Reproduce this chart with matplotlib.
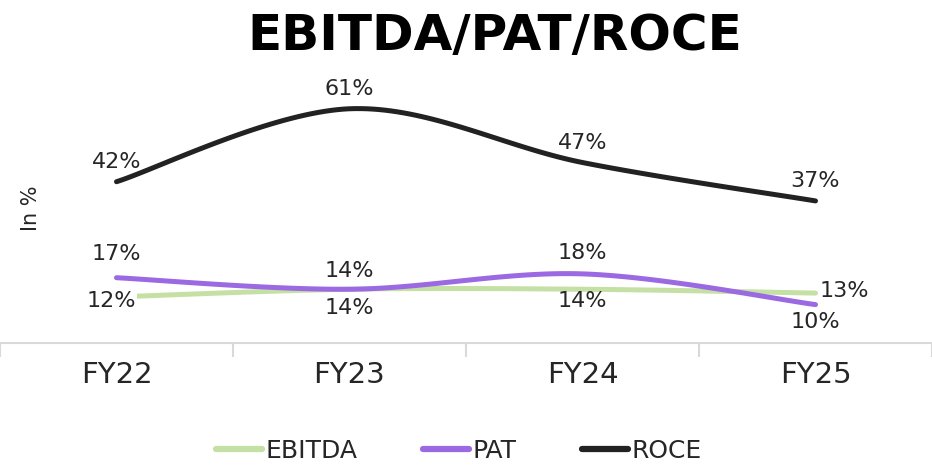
import numpy as np
import matplotlib
matplotlib.use("Agg")
import matplotlib.pyplot as plt

categories = ["FY22", "FY23", "FY24", "FY25"]
ebitda = [12, 14, 14, 13]
pat = [17, 14, 18, 10]
roce = [42, 61, 47, 37]

colors = {"EBITDA": "#C5E0A4", "PAT": "#9B69E1", "ROCE": "#222222"}
txt = "#262626"
FONT = "DejaVu Sans"
plt.rcParams["font.family"] = FONT


def smooth(xs, ys, n=40):
    xs = np.asarray(xs, float)
    ys = np.asarray(ys, float)
    px = np.concatenate([[xs[0]], xs, [xs[-1]]])
    py = np.concatenate([[ys[0]], ys, [ys[-1]]])
    ox, oy = [], []
    t = np.linspace(0, 1, n)
    for i in range(1, len(xs)):
        p0 = np.array([px[i - 1], py[i - 1]])
        p1 = np.array([px[i], py[i]])
        p2 = np.array([px[i + 1], py[i + 1]])
        p3 = np.array([px[i + 2], py[i + 2]])
        c1 = p1 + (p2 - p0) / 6
        c2 = p2 - (p3 - p1) / 6
        b = (np.outer((1 - t) ** 3, p1) + np.outer(3 * (1 - t) ** 2 * t, c1)
             + np.outer(3 * (1 - t) * t ** 2, c2) + np.outer(t ** 3, p2))
        ox.extend(b[:, 0])
        oy.extend(b[:, 1])
    return np.array(ox), np.array(oy)


fig = plt.figure(figsize=(9.32, 4.73), dpi=100)
ax = fig.add_axes([0, 130 / 473, 1, 268.8 / 473])
ax.set_xlim(-0.5, 3.5)
ax.set_ylim(0, 70)
x = np.arange(len(categories))

series = [("EBITDA", ebitda), ("PAT", pat), ("ROCE", roce)]
for name, vals in series:
    sx, sy = smooth(x, vals)
    ax.plot(sx, sy, color=colors[name], lw=3.6, solid_capstyle="round",
            label=name, zorder=2)

lab_fs = 16
# ROCE labels above
for i, v in enumerate(roce):
    ax.annotate(f"{v}%", (x[i], v), xytext=(0, 20), textcoords="offset pixels",
                ha="center", va="center", fontsize=lab_fs, color=txt)
# PAT labels
pat_off = [(0, 24), (0, 18), (0, 21), (0, -17)]
for i, v in enumerate(pat):
    ax.annotate(f"{v}%", (x[i], v), xytext=pat_off[i], textcoords="offset pixels",
                ha="center", va="center", fontsize=lab_fs, color=txt)
# EBITDA labels
ax.annotate(f"{ebitda[0]}%", (x[0], ebitda[0]), xytext=(-5, -4), textcoords="offset pixels",
            ha="center", va="center", fontsize=lab_fs, color=txt,
            bbox=dict(boxstyle="square,pad=0.05", fc="white", ec="none"), zorder=5)
ax.annotate(f"{ebitda[1]}%", (x[1], ebitda[1]), xytext=(0, -19), textcoords="offset pixels",
            ha="center", va="center", fontsize=lab_fs, color=txt)
ax.annotate(f"{ebitda[2]}%", (x[2], ebitda[2]), xytext=(0, -12), textcoords="offset pixels",
            ha="center", va="center", fontsize=lab_fs, color=txt)
ax.annotate(f"{ebitda[3]}%", (x[3], ebitda[3]), xytext=(4, 2), textcoords="offset pixels",
            ha="left", va="center", fontsize=lab_fs, color=txt)

for s in ["top", "right", "left"]:
    ax.spines[s].set_visible(False)
ax.spines["bottom"].set_color("#D9D9D9")
ax.spines["bottom"].set_linewidth(1.5)
ax.set_yticks([])
ax.set_xticks(x)
ax.set_xticklabels(categories, fontsize=21, color=txt)
ax.tick_params(axis="x", length=0, pad=13)
ax.set_xticks([-0.5, 0.5, 1.5, 2.5, 3.5], minor=True)
ax.tick_params(axis="x", which="minor", length=10, width=1.5, color="#D9D9D9")
ax.set_facecolor("none")

fig.text(0.531, 1 - 36 / 473, "EBITDA/PAT/ROCE", ha="center", va="center",
         fontsize=36, fontweight="bold", color="black")
fig.text(31 / 932, 1 - 208 / 473, "In %", rotation=90, ha="center", va="center",
         fontsize=15, color=txt)

leg = fig.legend(loc="center", bbox_to_anchor=(459 / 932, 1 - 451 / 473), ncol=3,
                 frameon=False, fontsize=18, handlelength=1.85, handletextpad=0.15,
                 columnspacing=2.6, labelcolor=txt)
for h in leg.get_lines():
    h.set_linewidth(4.5)

fig.savefig("out.png", dpi=100)
